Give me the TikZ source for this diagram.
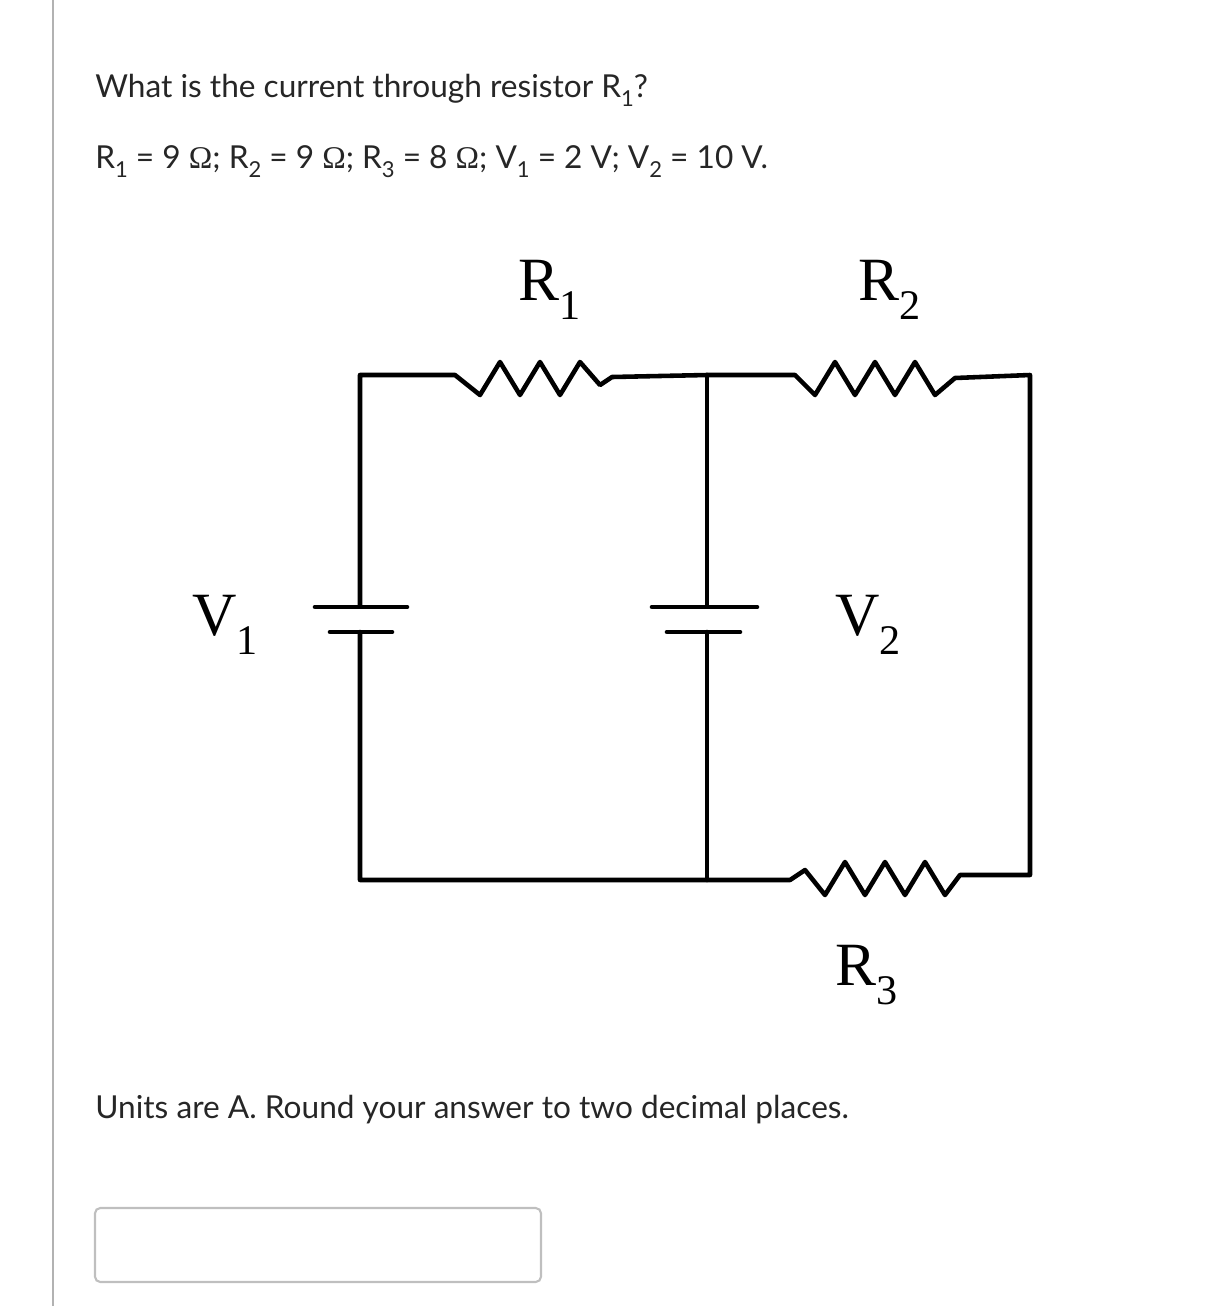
\documentclass[tikz,border=0pt]{standalone}
\usepackage{fontspec}
\setmainfont{Lato}
\newfontfamily\serifc{Liberation Serif}
\newcommand{\sbs}[1]{\raisebox{-0.28em}{\fontsize{12.5}{14}\selectfont #1}}
\newcommand{\lsb}[1]{\raisebox{-0.3em}{\fontsize{24}{28}\selectfont #1}}
\begin{document}
\begin{tikzpicture}[x=0.02cm,y=-0.02cm,
  wire/.style={line width=2.6pt,line join=round,line cap=round},
  txt/.style={anchor=west,inner sep=0pt,font=\fontsize{18}{22}\selectfont,text=black!85},
  lab/.style={inner sep=0pt,font=\serifc\fontsize{35}{40}\selectfont}]
\useasboundingbox (0,0) rectangle (1223,1306);
\draw[black!30,line width=1pt] (53,0) -- (53,1306);
\node[txt] (q) at (95,90) {What is the current through resistor R\sbs{1}?};
\node[txt] (g) at (95,162) {R\sbs{1} = 9 {\serifc Ω}; R\sbs{2} = 9 {\serifc Ω}; R\sbs{3} = 8 {\serifc Ω}; V\sbs{1} = 2 V; V\sbs{2} = 10 V.};
\node[txt] (u) at (95,1110) {Units are A. Round your answer to two decimal places.};
\draw[black!25,line width=1.2pt,rounded corners=3pt] (95,1208) rectangle (541,1282);
% circuit
\coordinate (tl) at (360,375); \coordinate (tm) at (707,375); \coordinate (tr) at (1030,375);
\coordinate (bl) at (360,880); \coordinate (bm) at (707,880); \coordinate (br) at (1030,875);
\draw[wire] (360,605) -- (tl) -- (455,375) -- (480,395) -- (500,362) -- (520,395) -- (540,362) -- (560,395) -- (580,362) -- (600,385) -- (612,377) -- (tm)
  -- (795,375) -- (815,395) -- (835,362) -- (855,395) -- (875,362) -- (895,395) -- (915,362) -- (935,395) -- (955,378) -- (tr) -- (br)
  -- (960,875) -- (945,895) -- (925,862) -- (905,895) -- (885,862) -- (865,895) -- (845,862) -- (825,895) -- (805,870) -- (790,880) -- (bm) -- (bl) -- (360,632);
\draw[wire] (tm) -- (707,605); \draw[wire] (707,632) -- (bm);
\draw[wire] (315,607) -- (407,607); \draw[wire] (330,632) -- (392,632);
\draw[wire] (652,607) -- (757,607); \draw[wire] (667,632) -- (740,632);
\node[lab] (r1) at (550,290) {R\lsb{1}};
\node[lab] (r2) at (890,290) {R\lsb{2}};
\node[lab] (v1) at (225,625) {V\lsb{1}};
\node[lab] (v2) at (868,625) {V\lsb{2}};
\node[lab] (r3) at (867,975) {R\lsb{3}};
\end{tikzpicture}
\end{document}
